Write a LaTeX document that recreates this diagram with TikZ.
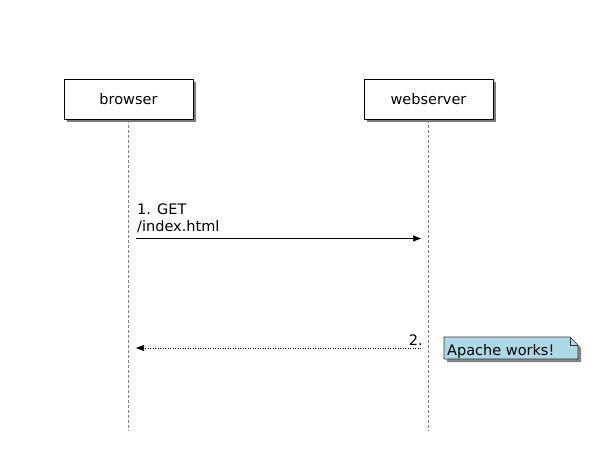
\documentclass[tikz,border=0pt]{standalone}
\usepackage{fontspec}
\setmainfont{DejaVu Sans}
\usetikzlibrary{arrows.meta,shadows}
\definecolor{notefill}{HTML}{ADD8E6}
\begin{document}
\begin{tikzpicture}[x=1pt,y=-1pt,
  lbl/.style={font=\fontsize{14.5}{17}\selectfont, inner sep=0pt},
  actor/.style={lbl, draw=black, fill=white, line width=0.9pt, minimum width=129pt, minimum height=40pt,
    drop shadow={shadow xshift=3pt, shadow yshift=-3pt, fill=black!65, opacity=0.8}},
  lifeline/.style={draw=black!50, dash pattern=on 3pt off 2pt, line width=0.6pt},
  msg/.style={draw=black, line width=0.6pt, -{Triangle[length=8pt,width=6pt]}},
  reply/.style={msg, dash pattern=on 1pt off 1.5pt}
]
\useasboundingbox (0,0) rectangle (594,462);
\node[actor] (browser) at (128.5,99.5) {browser};
\node[actor] (web) at (428.5,99.5) {webserver};
\coordinate (bend) at (128.5,430);
\coordinate (wend) at (428.5,430);
\draw[lifeline] (browser.south) -- (bend);
\draw[lifeline] (web.south) -- (wend);
% message 1
\coordinate (m1s) at (136,238.5);
\coordinate (m1e) at (421,238.5);
\draw[msg] (m1s) -- (m1e);
\node[lbl, anchor=base west, align=left] (l1) at (137,232) {1. GET\\/index.html};
% message 2
\coordinate (m2s) at (421,348);
\coordinate (m2e) at (136,348);
\draw[reply] (m2s) -- (m2e);
\node[lbl, anchor=base east] (l2) at (423,345) {2.};
% note
\fill[black!60, opacity=0.8] (447,340) -- (573,340) -- (581,348) -- (581,362) -- (447,362) -- cycle;
\path[draw=black!80, fill=notefill, line width=0.6pt] (444,337) -- (570,337) -- (578,345) -- (578,359) -- (444,359) -- cycle;
\draw[black!80, line width=0.6pt] (570,337) -- (570,345) -- (578,345);
\node[lbl, anchor=base west] (note) at (447,355) {Apache works!};
\end{tikzpicture}
\end{document}
